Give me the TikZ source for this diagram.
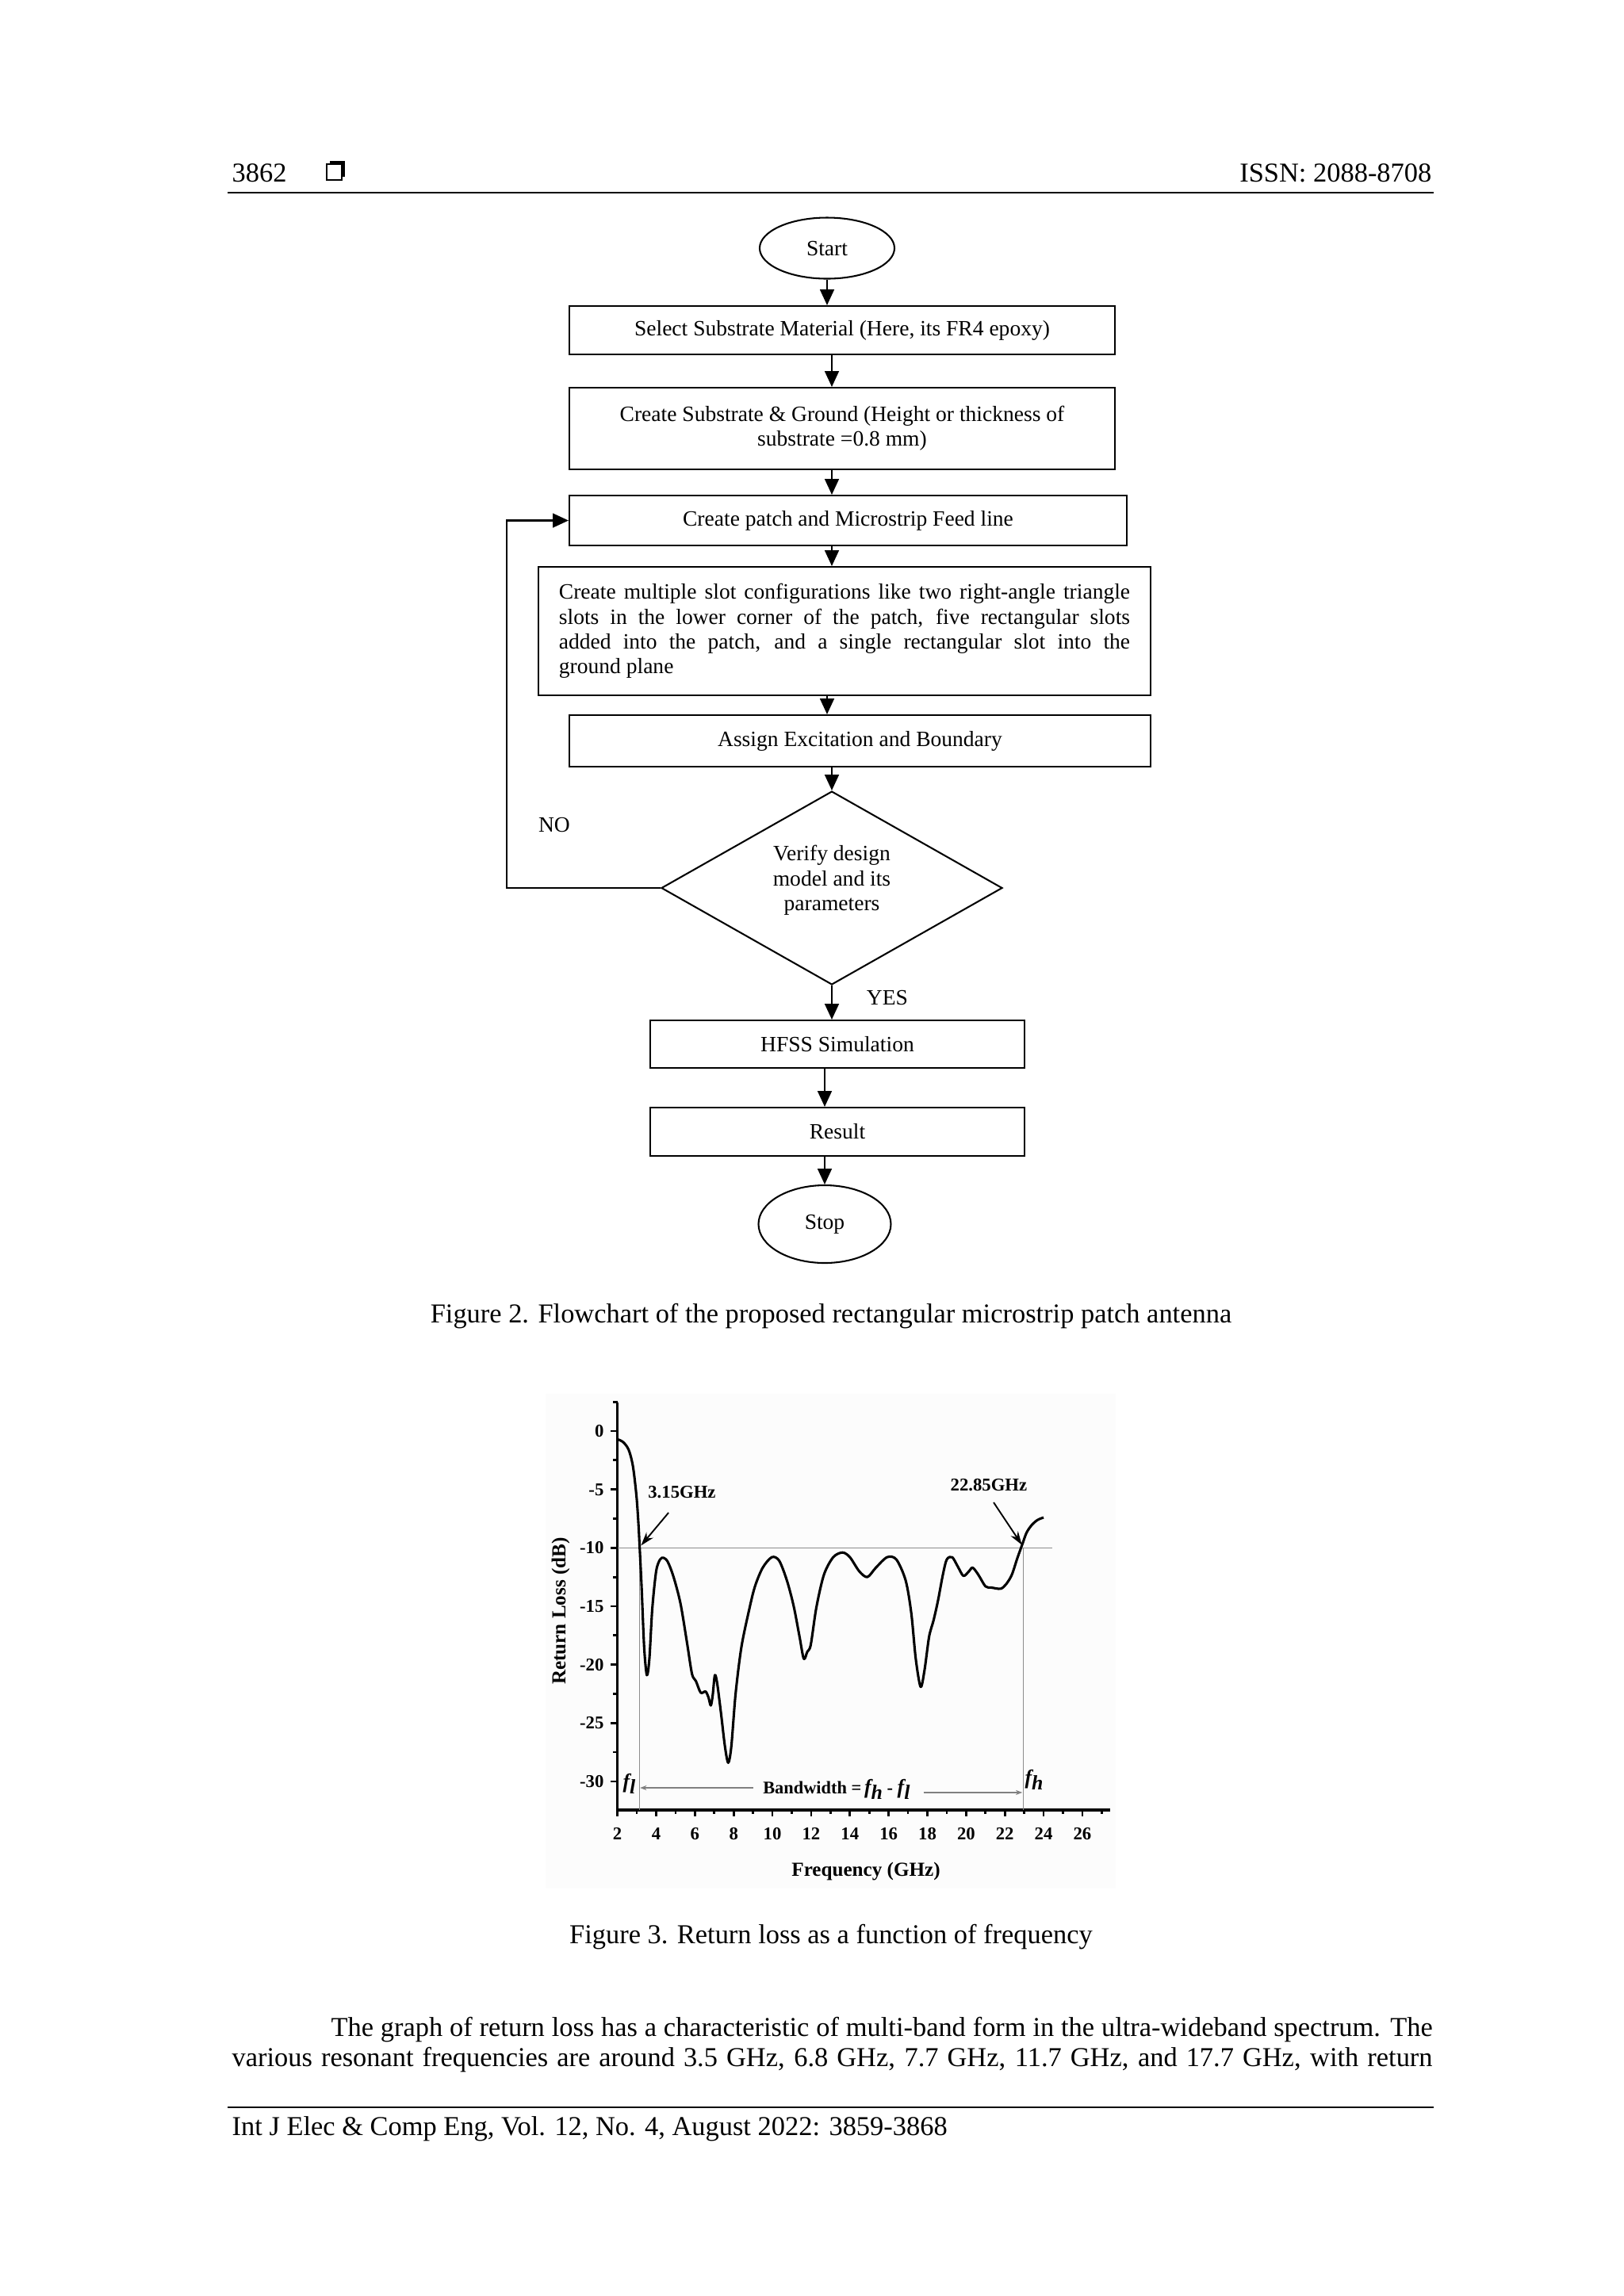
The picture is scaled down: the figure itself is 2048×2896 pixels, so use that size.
\documentclass[tikz,border=0pt]{standalone}
\usepackage{fontspec}
\setmainfont{Liberation Serif}
\usetikzlibrary{shapes.geometric,arrows.meta}
\newcommand\fcfont{\fontsize{8}{9.1}\selectfont}
\newcommand\bodyfont{\fontsize{10}{11.5}\selectfont}
\newcommand\tickfont{\fontsize{6.6}{7.5}\selectfont\bfseries}
\newcommand\axfont{\fontsize{7.3}{8.5}\selectfont\bfseries}
\newcommand\fsub[2]{{\itshape\bfseries f}\raisebox{-#2}{\itshape\bfseries #1}}
\begin{document}
\begin{tikzpicture}[x=0.2905pt,y=-0.2905pt,
  txt/.style={inner sep=0pt, font=\bodyfont},
  box/.style={draw, line width=0.6pt, inner sep=0pt, font=\fcfont, align=center},
  term/.style={box, ellipse},
  arr/.style={line width=0.6pt, -{Triangle[length=5.8pt,width=5.2pt]}},
  fclabel/.style={inner sep=0pt, font=\fcfont},
  axisline/.style={line width=1pt},
  tickline/.style={line width=0.8pt},
  refline/.style={black!45, line width=0.35pt},
  bwarr/.style={black!50, line width=0.35pt, -{Stealth[length=2.4pt,width=1.8pt]}},
  callout/.style={black, line width=0.55pt, -{Stealth[length=5pt,width=3.2pt]}},
  curve/.style={line width=0.9pt, line join=round}
]
\fill[white] (0,0) rectangle (2048,2896);
\useasboundingbox (0,0) rectangle (2048,2896);

% ---------- header ----------
\node[txt, anchor=base west] (pgno) at (292,229) {3862};
\fill (416,203) rectangle (435,223);
\filldraw[fill=white, draw=black, line width=0.4pt] (412,207) rectangle (431,227);
\node[txt, anchor=base east] (issn) at (1806,229) {ISSN: 2088-8708};
\draw[line width=0.8pt] (287,243) -- (1808,243);

% ---------- flowchart ----------
\node[term, minimum width=49.39pt, minimum height=22.37pt] (start) at (1043,313) {Start};
\node[box, minimum width=199.86pt, minimum height=17.72pt] (sel) at (1062,416.5)
  {Select Substrate Material (Here, its FR4 epoxy)};
\node[box, minimum width=199.86pt, minimum height=29.92pt] (sub) at (1062,540.5)
  {Create Substrate \& Ground (Height or thickness of\\substrate =0.8 mm)};
\node[box, minimum width=204.22pt, minimum height=18.30pt] (patch) at (1069.5,656.5)
  {Create patch and Microstrip Feed line};
\node[box, minimum width=224.27pt, minimum height=47.06pt, align=left] (slots) at (1065,796)
  {\makebox[209.2pt][s]{Create multiple slot configurations like two right-angle triangle}\\
   \makebox[209.2pt][s]{slots in the lower corner of the patch, five rectangular slots}\\
   \makebox[209.2pt][s]{added into the patch, and a single rectangular slot into the}\\
   ground plane};
\node[box, minimum width=212.94pt, minimum height=18.88pt] (assign) at (1084.5,934.5)
  {Assign Excitation and Boundary};
\node[draw, diamond, line width=0.6pt, inner sep=0pt, shape aspect=1.76,
      minimum width=124.92pt, minimum height=70.88pt] (dia) at (1049,1120) {};
\node[fclabel, align=center] (diatext) at ([yshift=2.8pt]dia.center)
  {Verify design\\model and its\\parameters};
\node[box, minimum width=137.12pt, minimum height=17.43pt] (hfss) at (1056,1317) {HFSS Simulation};
\node[box, minimum width=137.12pt, minimum height=17.72pt] (result) at (1056,1427.5) {Result};
\node[term, minimum width=48.51pt, minimum height=28.47pt] (stop) at (1040,1544) {Stop};

\node[fclabel] (nolbl) at (699,1040) {NO};
\node[fclabel] (yeslbl) at (1119,1258) {YES};

\draw[arr] (start.south) -- (start.south |- sel.north);
\draw[arr] (sel.south -| dia.north) -- (sub.north -| dia.north);
\draw[arr] (sub.south -| dia.north) -- (patch.north -| dia.north);
\draw[arr] (patch.south -| dia.north) -- (slots.north -| dia.north);
\draw[arr] (slots.south -| start.south) -- (assign.north -| start.south);
\draw[arr] (assign.south -| dia.north) -- (dia.north);
\draw[arr] (dia.south) -- (hfss.north -| dia.south);
\draw[arr] (hfss.south -| stop.north) -- (result.north -| stop.north);
\draw[arr] (result.south -| stop.north) -- (stop.north);
\draw[arr] (dia.west) -- ++(-194,0) |- (patch.west);

\node[txt, anchor=base] (cap2) at (1048,1668)
  {Figure 2. Flowchart of the proposed rectangular microstrip patch antenna};

% ---------- plot ----------
\fill[black!1.2] (688,1758) rectangle (1407,2382);
\begin{scope}[shift={(211.99pt,-524.35pt)}, x=7.097pt, y=4.279pt]
  \draw[axisline] (2,2.45) -- (2,-32.45) -- (27.45,-32.45);
  \foreach \v in {0,-5,...,-30} {
    \draw[tickline] (2,\v) -- ++(-2.6pt,0pt);
    \node[anchor=east, inner sep=0pt, font=\tickfont] at ([xshift=-4.8pt]2,\v) {\v};
  }
  \foreach \v in {2.5,-2.5,-7.5,...,-27.5}
    \draw[tickline] (2,\v) -- ++(-1.7pt,0pt);
  \foreach \f in {2,4,...,26} {
    \draw[tickline] (\f,-32.45) -- ++(0pt,-2.3pt);
    \node[inner sep=0pt, font=\tickfont] at ([yshift=-8.7pt]\f,-32.45) {\f};
  }
  \foreach \f in {3,5,...,27}
    \draw[tickline] (\f,-32.45) -- ++(0pt,-1.5pt);

  \draw[refline] (2,-10) -- (24.45,-10);
  \draw[refline] (3.15,-10) -- (3.15,-32.45);
  \draw[refline] (22.95,-10) -- (22.95,-32.45);

  \draw[curve] plot[smooth, tension=0.5] coordinates {
    (2,-0.7) (2.3,-0.95) (2.58,-1.6) (2.8,-3.0) (2.98,-5.5) (3.08,-7.8) (3.15,-10)
    (3.25,-13.4) (3.38,-18.5) (3.52,-20.9) (3.65,-19.5) (3.8,-15.2) (4.0,-12.0)
    (4.2,-11.0) (4.38,-10.85) (4.6,-11.2) (4.9,-12.5) (5.26,-14.8) (5.6,-18.2)
    (5.85,-20.8) (6.05,-21.4) (6.3,-22.4) (6.55,-22.3) (6.7,-22.8) (6.82,-23.5)
    (6.92,-22.6) (7.03,-20.9) (7.15,-21.6) (7.35,-24.2) (7.55,-27.0) (7.72,-28.4)
    (7.88,-27.0) (8.1,-22.5) (8.4,-18.5) (8.8,-15.3) (9.1,-13.3) (9.5,-11.7)
    (9.97,-10.8) (10.35,-11.1) (10.75,-12.8) (11.1,-15.0) (11.4,-17.6) (11.62,-19.5)
    (11.8,-18.9) (11.98,-18.3) (12.27,-15.1) (12.66,-12.3) (13.14,-10.8) (13.62,-10.4)
    (14.0,-10.8) (14.48,-12.0) (14.9,-12.5) (15.34,-11.7) (15.92,-10.8) (16.4,-11.0)
    (16.88,-12.8) (17.17,-15.6) (17.4,-19.5) (17.65,-21.9) (17.85,-20.5) (18.09,-17.6)
    (18.32,-16.2) (18.55,-14.5) (18.8,-12.3) (19.0,-11.0) (19.28,-10.8) (19.57,-11.6)
    (19.86,-12.4) (20.15,-12.0) (20.34,-11.7) (20.63,-12.3) (21.0,-13.3) (21.3,-13.4)
    (21.78,-13.5) (22.07,-13.1) (22.36,-12.3) (22.64,-10.9) (22.9,-9.7) (23.12,-8.7)
    (23.41,-8.0) (23.7,-7.6) (24.0,-7.4)};

  \node[inner sep=0pt, font=\tickfont] (lowlbl) at (5.33,-5.23) {3.15GHz};
  \node[inner sep=0pt, font=\tickfont] (highlbl) at (21.17,-4.62) {22.85GHz};
  \coordinate (lowfrom) at (4.64,-6.99);
  \coordinate (lowtip) at (3.22,-9.8);
  \coordinate (highfrom) at (21.42,-6.11);
  \coordinate (hightip) at (22.88,-9.75);
  \draw[callout] (lowfrom) -- (lowtip);
  \draw[callout] (highfrom) -- (hightip);

  \node[inner sep=0pt, font=\fontsize{7.5}{8}\selectfont] (fl) at (2.61,-30.21) {\fsub{l}{2pt}};
  \node[inner sep=0pt, font=\fontsize{7.5}{8}\selectfont] (fh) at (23.51,-29.87) {\fsub{h}{2pt}};
  \node[inner sep=0pt, anchor=base west, font=\fontsize{6.5}{7.5}\selectfont] (bwtxt) at (9.49,-31.03)
    {\bfseries Bandwidth =\,{\fontsize{7.5}{8}\selectfont\fsub{h}{2.2pt}} - {\fontsize{7.5}{8}\selectfont\fsub{l}{2.2pt}}};
  \coordinate (bwla) at (9.0,-30.55);
  \coordinate (bwlb) at (3.17,-30.55);
  \coordinate (bwra) at (17.8,-30.95);
  \coordinate (bwrb) at (22.9,-30.95);
  \draw[bwarr] (bwla) -- (bwlb);
  \draw[bwarr] (bwra) -- (bwrb);

  \node[inner sep=0pt, font=\axfont, rotate=90] (ylab) at (-0.93,-15.41) {Return Loss (dB)};
  \node[inner sep=0pt, font=\axfont] (xlab) at (14.83,-37.68) {Frequency (GHz)};
\end{scope}

\node[txt, anchor=base] (cap3) at (1048,2451) {Figure 3. Return loss as a function of frequency};

% ---------- body text ----------
\node[txt, anchor=base west] (line1) at (292,2568)
  {\makebox[439.8pt][s]{\hspace*{36.3pt}The graph of return loss has a characteristic of multi-band form in the ultra-wideband spectrum. The}};
\node[txt, anchor=base west] (line2) at (292,2606)
  {\makebox[439.8pt][s]{various resonant frequencies are around 3.5 GHz, 6.8 GHz, 7.7 GHz, 11.7 GHz, and 17.7 GHz, with return}};

% ---------- footer ----------
\draw[line width=0.8pt] (287,2658) -- (1808,2658);
\node[txt, anchor=base west] (foot) at (292,2693)
  {Int J Elec \& Comp Eng, Vol. 12, No. 4, August 2022: 3859-3868};
\end{tikzpicture}
\end{document}
